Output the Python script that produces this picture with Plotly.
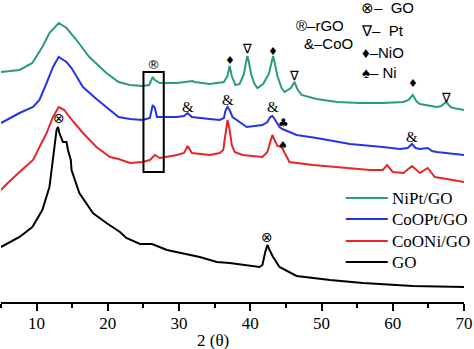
import plotly.graph_objects as go

# XRD patterns: 2-theta (degrees) and intensity (a.u., vertically offset)
nipt_x = [5.0, 7.6, 9.4, 10.8, 11.8, 13.1, 14.2, 15.6, 17.4, 19.8, 21.5, 23.1, 24.9, 25.8, 26.3, 26.6,
          27.3, 29.7, 31.9, 32.2, 34.3, 35.7, 36.3, 36.8, 37.1, 37.4, 37.9, 38.5, 39.1, 39.4, 39.6,
          39.8, 40.1, 40.6, 41.0, 41.8, 42.6, 43.0, 43.2, 43.4, 43.8, 44.4, 44.8, 45.7, 46.2, 46.6,
          47.2, 49.3, 52.2, 55.4, 58.6, 61.5, 62.2, 62.8, 63.3, 63.8, 66.2, 66.8, 67.5, 68.1, 68.5, 70.0]
nipt_y = [230, 232, 239, 255, 269, 279, 274, 262, 245, 229, 220, 217, 216, 217, 225, 222,
          219, 219, 221, 220, 218, 219, 220, 226, 236, 226, 217, 218, 228, 240, 246,
          240, 228, 218, 214, 218, 228, 240, 246, 240, 226, 214, 210, 214, 220, 213,
          207, 203, 200, 199, 199, 200, 202, 207, 201, 198, 195, 196, 200, 195, 194, 192]

coopt_x = [5.0, 7.6, 9.5, 10.4, 11.4, 12.3, 13.1, 14.2, 14.9, 16.5, 18.4, 19.8, 21.5, 23.1, 24.9,
           25.9, 26.2, 26.3, 26.6, 26.9, 29.7, 30.7, 31.2, 31.8, 34.3, 35.7, 36.3, 36.5, 36.8, 37.1,
           37.5, 38.1, 39.5, 41.7, 42.4, 42.8, 43.1, 43.4, 44.1, 44.5, 46.5, 49.3, 54.0, 58.6, 61.0,
           62.1, 62.7, 63.2, 63.8, 64.9, 65.5, 66.2, 70.0]
coopt_y = [179, 189, 195, 202, 219, 235, 245, 240, 234, 215, 203, 195, 185, 183, 182,
           184, 192, 197, 194, 185, 185, 186, 189, 185, 183, 182, 184, 191, 195, 192,
           185, 182, 175, 177, 180, 185, 186, 183, 175, 173, 167, 164, 158, 155, 153,
           154, 158, 154, 153, 154, 151, 150, 147]

cooni_x = [5.0, 5.8, 7.6, 9.5, 11.4, 12.3, 13.1, 13.9, 14.6, 16.5, 18.4, 20.3, 21.5, 23.1, 24.9,
           25.9, 26.6, 27.3, 29.7, 30.7, 31.2, 31.8, 34.3, 35.7, 36.2, 36.5, 36.8, 37.1, 37.4, 37.8,
           38.9, 41.7, 42.4, 42.8, 43.1, 43.4, 43.8, 44.4, 44.8, 45.2, 45.5, 48.8, 53.6, 56.8, 58.6,
           59.2, 60.0, 61.5, 62.7, 63.8, 64.9, 65.9, 67.6, 70.0]
cooni_y = [112, 118, 130, 142, 169, 185, 195, 192, 185, 169, 155, 145, 143, 139, 140,
           142, 147, 144, 147, 149, 156, 149, 147, 149, 152, 167, 182, 172, 157, 150,
           147, 145, 150, 160, 167, 162, 156, 155, 150, 145, 140, 137, 134, 132, 132,
           137, 130, 129, 136, 129, 134, 125, 123, 120]

go_x = [5.0, 7.6, 9.4, 10.8, 11.8, 12.3, 12.8, 13.0, 13.2, 13.7, 14.2, 14.4, 14.8, 14.9, 16.0,
        17.9, 19.8, 21.7, 22.6, 24.5, 26.2, 28.3, 30.5, 32.9, 35.3, 37.1, 41.3, 41.7, 42.1, 42.4,
        42.7, 43.2, 44.1, 46.5, 51.2, 55.8, 62.8, 70.0]
go_y = [55, 65, 75, 92, 115, 142, 172, 175, 169, 160, 160, 152, 142, 132, 109,
        89, 79, 70, 64, 58, 58, 52, 49, 45, 40, 39, 35, 37, 50, 57,
        52, 45, 35, 26, 22, 19, 16, 15]

series = [
    ("NiPt/GO", nipt_x, nipt_y, "#2a9d72"),
    ("CoOPt/GO", coopt_x, coopt_y, "#2236e6"),
    ("CoONi/GO", cooni_x, cooni_y, "#e8262a"),
    ("GO", go_x, go_y, "#000000"),
]

# Phase markers over the reflections: (symbol, 2-theta, height, font size)
peak_marks = [
    ("\u00ae", 26.4, 238, 13), ("\u2297", 13.1, 184, 14), ("&", 31.2, 195, 15),
    ("&", 36.8, 202, 15), ("\u2666", 37.1, 242, 11), ("\u2207", 39.6, 254, 13),
    ("\u2666", 43.2, 251, 11), ("\u2207", 46.2, 227, 13), ("&", 43.2, 195, 15),
    ("\u2663", 44.6, 179, 12), ("\u2660", 44.6, 157, 11), ("\u2666", 62.8, 219, 11),
    ("\u2207", 67.5, 205, 13), ("&", 62.7, 165, 15), ("\u2297", 42.4, 65, 14),
]

# Phase key text: (label, left 2-theta, height)
phase_key = [
    ("\u2297\u2013  GO", 55.2, 295), ("\u00ae\u2013rGO", 46.2, 277),
    ("&\u2013CoO", 47.2, 259), ("\u2207\u2013  Pt", 55.2, 272),
    ("\u2666\u2013NiO", 55.4, 250), ("\u2660\u2013 Ni", 55.4, 230),
]

legend_y = [104, 83, 61, 40]

fig = go.Figure()
for name, xs, ys, color in series:
    fig.add_trace(go.Scatter(x=xs, y=ys, mode="lines", name=name,
                             line=dict(color=color, width=2), showlegend=False))

serif = "Liberation Serif, Times New Roman, serif"
sans = "Liberation Sans, Arial, sans-serif"

annotations = []
for sym, x, y, size in peak_marks:
    annotations.append(dict(x=x, y=y, text=sym, showarrow=False,
                            font=dict(family=serif if sym == "&" else "DejaVu Sans", size=size, color="black")))
for label, x, y in phase_key:
    annotations.append(dict(x=x, y=y, text=label, showarrow=False, xanchor="left",
                            font=dict(family=sans, size=15, color="black")))

shapes = [dict(type="rect", x0=25.0, x1=27.85, y0=130, y1=230,
               line=dict(color="black", width=2), fillcolor="rgba(0,0,0,0)")]

# Series key: short line sample followed by the name
for (name, _, _, color), ly in zip(series, legend_y):
    shapes.append(dict(type="line", x0=53.4, x1=59.3, y0=ly, y1=ly,
                       line=dict(color=color, width=2)))
    annotations.append(dict(x=59.6, y=ly, text=name, showarrow=False, xanchor="left",
                            font=dict(family=serif, size=17, color="black")))

# Axis title, placed under the tick labels
annotations.append(dict(x=34.7, y=0, xref="x", yref="paper", yanchor="middle", yshift=-38,
                        text="2 (\u03b8)", showarrow=False,
                        font=dict(family=serif, size=17, color="black")))

fig.update_layout(
    width=474, height=349,
    margin=dict(l=1.4, r=10, t=0, b=47),
    paper_bgcolor="white", plot_bgcolor="white",
    annotations=annotations, shapes=shapes,
    xaxis=dict(range=[5, 70], tickmode="linear", tick0=10, dtick=10,
               ticks="outside", ticklen=7, tickwidth=2, tickcolor="black",
               showline=True, linecolor="black", linewidth=2, showgrid=False, zeroline=False,
               minor=dict(tick0=5, dtick=10, ticks="outside", ticklen=4, tickwidth=2, tickcolor="black"),
               tickfont=dict(family=serif, size=17, color="black"), ticklabelstandoff=-2),
    yaxis=dict(range=[0, 302], visible=False),
)

fig.write_html("out.html")
